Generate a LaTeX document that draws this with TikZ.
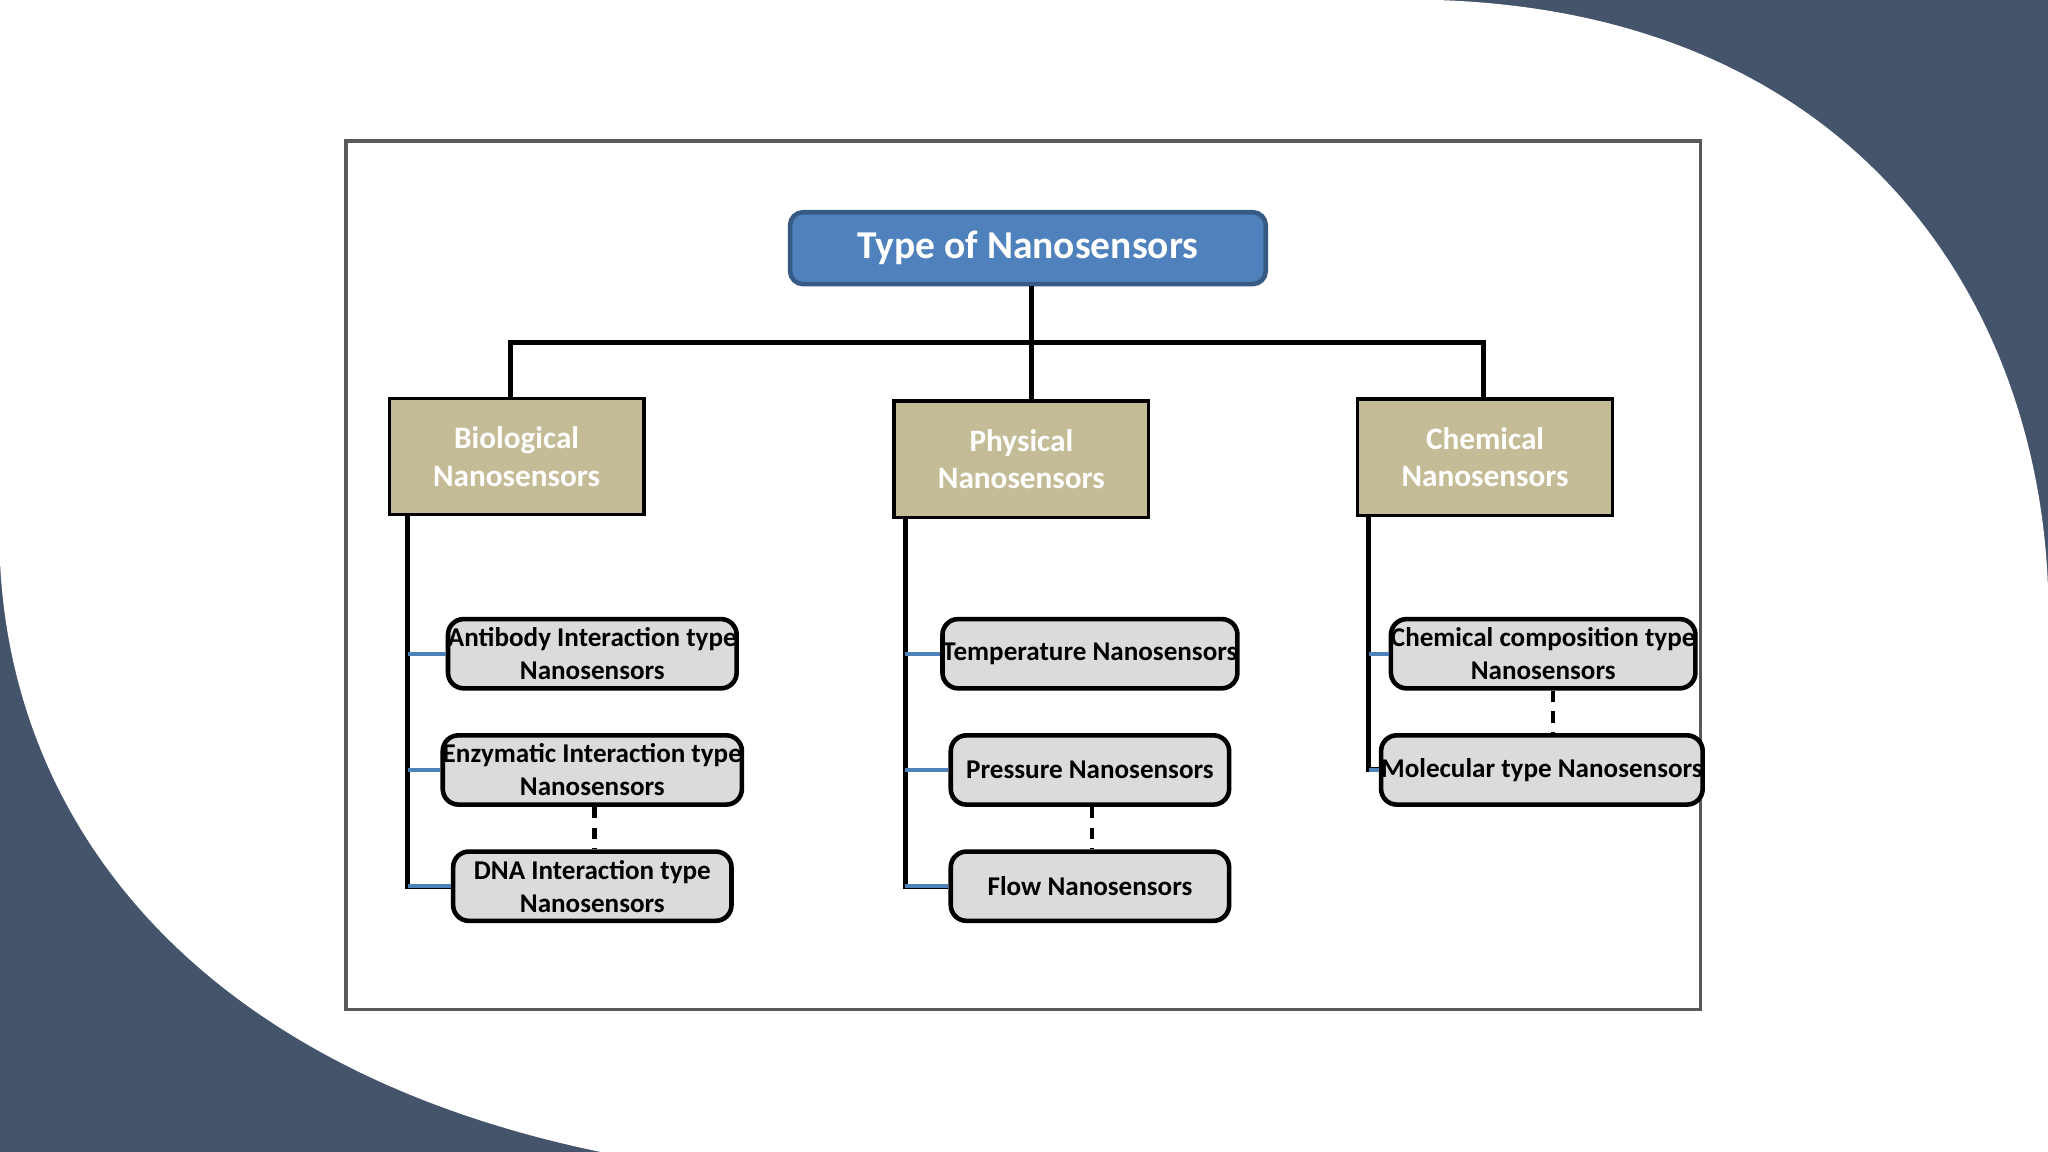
\documentclass[tikz,border=0pt]{standalone}
\usepackage{fontspec}
\setmainfont{Carlito}
\begin{document}
\begin{tikzpicture}[x=0.01cm,y=-0.01cm,
  tbox/.style={draw=black,line width=0.7pt,fill=tanc,text=white,font=\bfseries\fontsize{6.8}{8.2}\selectfont,align=center,minimum width=1.95cm,minimum height=0.89cm,inner sep=0pt},
  gbox/.style={draw=black,line width=1pt,rounded corners=1.2mm,fill=gray!28,font=\bfseries\fontsize{5.9}{7.2}\selectfont,align=center,minimum width=2.13cm,minimum height=0.53cm,inner sep=0pt},
  conn/.style={line width=1.1pt,black},
  stub/.style={line width=0.9pt,bluec},
  dsh/.style={line width=1pt,dashed,dash pattern=on 2.5pt off 2pt}]
\definecolor{bg}{HTML}{44546A}
\definecolor{tanc}{HTML}{C4BC96}
\definecolor{bluec}{HTML}{4F81BD}
\useasboundingbox (0,0) rectangle (1568,882);
\fill[bg] (0,0) rectangle (1568,882);
\fill[white] (0,0) -- (1100,0) .. controls (1420,10) and (1560,230) .. (1568,450) -- (1568,882) -- (460,882) .. controls (160,820) and (10,640) .. (0,430) -- cycle;
\draw[line width=0.8pt,gray!70!black,fill=white] (265,108) rectangle (1302,773);
\node[draw=bluec!70!black,line width=1pt,rounded corners=1mm,fill=bluec,text=white,font=\bfseries\fontsize{8.6}{10}\selectfont,minimum width=3.64cm,minimum height=0.55cm] (t) at (787,190) {Type of Nanosensors};
\node[tbox] (b) at (395.5,349.5) {Biological\\Nanosensors};
\node[tbox] (p) at (782,351.5) {Physical\\Nanosensors};
\node[tbox] (c) at (1137,350) {Chemical\\Nanosensors};
\node[gbox] (b1) at (453.5,500.5) {Antibody Interaction type\\Nanosensors};
\node[gbox] (b2) at (453.5,589.5) {Enzymatic Interaction type\\Nanosensors};
\node[gbox] (b3) at (453.5,678.5) {DNA Interaction type\\Nanosensors};
\node[gbox] (p1) at (834.5,500.5) {Temperature Nanosensors};
\node[gbox] (p2) at (834.5,589.5) {Pressure Nanosensors};
\node[gbox] (p3) at (834.5,678.5) {Flow Nanosensors};
\node[gbox] (c1) at (1181.5,500.5) {Chemical composition type\\Nanosensors};
\node[gbox] (c2) at (1180.5,589.5) {Molecular type Nanosensors};
\coordinate (j) at (790,262);
\draw[conn] (t.south -| j) -- (j);
\draw[conn] (p.north -| j) -- (j);
\draw[conn] (b.north -| 391,0) |- (j) -| (c.north -| 1136,0);
% side lines
\draw[conn] (b.south -| 312,0) |- (b3.west);
\draw[conn] (p.south -| 693,0) |- (p3.west);
\draw[conn] (c.south -| 1048,0) |- (c2.west);
\foreach \n/\x in {b1/312,b2/312,b3/312,p1/693,p2/693,p3/693,c1/1048,c2/1048}
  \draw[stub] (\n.west -| \x,0) -- (\n.west);
\draw[dsh] (b2.south -| 455,0) -- (b3.north -| 455,0);
\draw[dsh] (p2.south -| 836,0) -- (p3.north -| 836,0);
\draw[dsh] (c1.south -| 1189,0) -- (c2.north -| 1189,0);
\end{tikzpicture}
\end{document}
